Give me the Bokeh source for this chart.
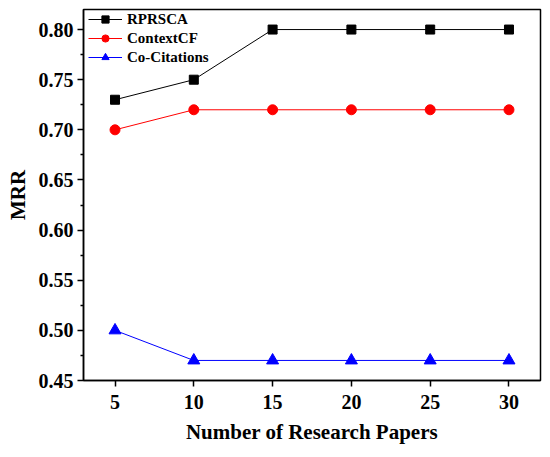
from bokeh.embed import file_html
from bokeh.resources import INLINE
from bokeh.plotting import figure
from bokeh.models import FixedTicker, NumeralTickFormatter

# data
papers = [5, 10, 15, 20, 25, 30]
rprsca = [0.73, 0.75, 0.80, 0.80, 0.80, 0.80]
context_cf = [0.70, 0.72, 0.72, 0.72, 0.72, 0.72]
co_citations = [0.50, 0.47, 0.47, 0.47, 0.47, 0.47]

y_major = [0.45, 0.50, 0.55, 0.60, 0.65, 0.70, 0.75, 0.80]
y_minor = [0.475, 0.525, 0.575, 0.625, 0.675, 0.725, 0.775]

FONT = "Liberation Serif"

p = figure(width=542, height=449, output_backend="svg", toolbar_location=None,
           x_range=(3, 32), y_range=(0.45, 0.82),
           min_border_left=83, min_border_right=2, min_border_top=9, min_border_bottom=69,
           background_fill_color="white", border_fill_color="white",
           outline_line_color="black", outline_line_width=1.5)

p.xgrid.grid_line_color = None
p.ygrid.grid_line_color = None

p.xaxis.ticker = FixedTicker(ticks=papers, minor_ticks=[])
p.yaxis.ticker = FixedTicker(ticks=y_major, minor_ticks=y_minor)
p.yaxis.formatter = NumeralTickFormatter(format="0.00")

for ax in (p.xaxis[0], p.yaxis[0]):
    ax.axis_line_width = 1.5
    ax.major_tick_line_width = 1.5
    ax.minor_tick_line_width = 1.5
    ax.major_tick_in = 0
    ax.major_tick_out = 6
    ax.minor_tick_in = 0
    ax.minor_tick_out = 3
    ax.major_label_text_font = FONT
    ax.major_label_text_font_style = "bold"
    ax.major_label_text_font_size = "20px"
    ax.major_label_text_color = "black"
    ax.axis_label_text_font = FONT
    ax.axis_label_text_font_style = "bold"
    ax.axis_label_text_font_size = "21px"
    ax.axis_label_text_color = "black"

p.xaxis.axis_label = "Number of Research Papers"
p.yaxis.axis_label = "MRR"
p.xaxis.major_label_standoff = 8
p.xaxis.axis_label_standoff = 8
p.yaxis.major_label_standoff = 4
p.yaxis.axis_label_standoff = 6

series = [
    ("RPRSCA", rprsca, "#000000", "square", 9),
    ("ContextCF", context_cf, "#ff0000", "circle", 10),
    ("Co-Citations", co_citations, "#0000ff", "triangle", 12),
]
for name, vals, color, marker, size in series:
    p.line(papers, vals, line_color=color, line_width=1, legend_label=name)
    p.scatter(papers, vals, marker=marker, size=size, fill_color=color,
              line_color=color, legend_label=name)

lg = p.legend[0]
lg.location = (5, 314)
lg.border_line_color = None
lg.background_fill_alpha = 0
lg.margin = 0
lg.padding = 0
lg.spacing = 1
lg.glyph_width = 34
lg.glyph_height = 18
lg.label_height = 18
lg.label_standoff = 5
lg.label_text_font = FONT
lg.label_text_font_style = "bold"
lg.label_text_font_size = "15px"
lg.label_text_color = "black"

open("out.html", "w").write(file_html(p, INLINE))
